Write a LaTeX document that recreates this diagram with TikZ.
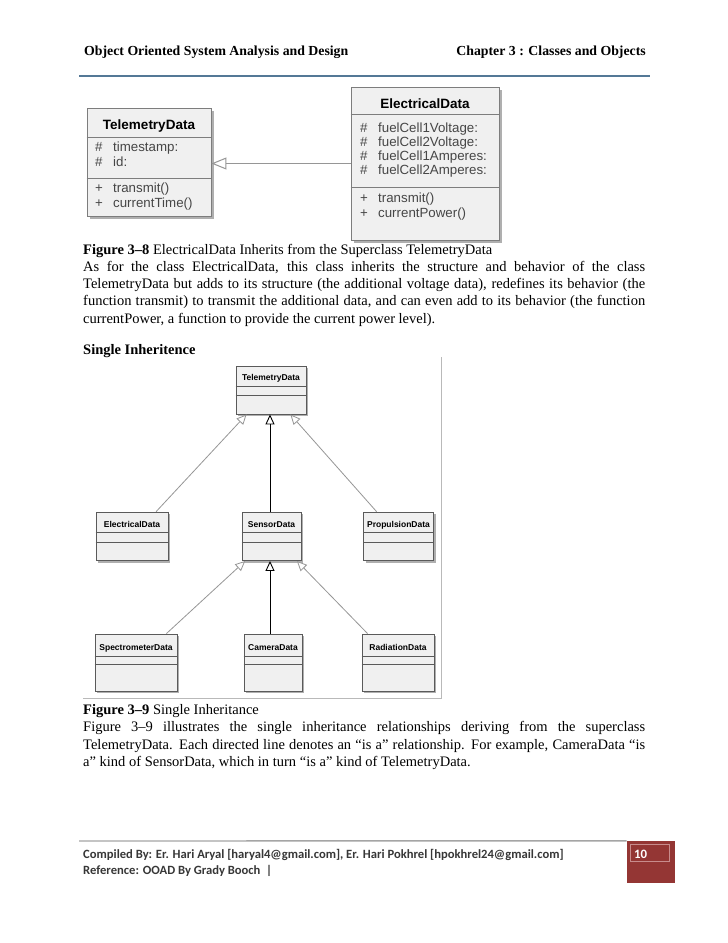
\documentclass[tikz,border=0pt]{standalone}
\usepackage{fontspec}
\setmainfont{Liberation Serif}
\newfontfamily\arialf{Liberation Sans}
\newfontfamily\calf{Carlito}
\usetikzlibrary{arrows.meta,calc,shadows}
\definecolor{hdrblue}{RGB}{84,120,150}
\definecolor{boxfill}{RGB}{240,240,240}
\definecolor{boxline}{RGB}{125,125,125}
\definecolor{boxdark}{RGB}{90,90,90}
\definecolor{shadowc}{RGB}{175,175,175}
\definecolor{attrc}{RGB}{70,70,70}
\definecolor{footred}{RGB}{148,54,52}
\definecolor{footgray}{RGB}{165,165,165}
\definecolor{framec}{RGB}{185,185,185}
\definecolor{connc}{RGB}{150,150,150}
\tikzset{
  bigbox/.style={draw=boxline, fill=boxfill, line width=0.9pt, inner sep=0pt,
    drop shadow={shadow xshift=3pt, shadow yshift=-3pt, fill=shadowc, opacity=1}},
  smallbox/.style={draw=boxdark, fill=boxfill, line width=0.8pt, inner sep=0pt,
    drop shadow={shadow xshift=2pt, shadow yshift=-2pt, fill=shadowc, opacity=1}},
  bigtitle/.style={anchor=base, inner sep=0pt, font=\arialf\bfseries\fontsize{13.5}{14}\selectfont},
  bigattr/.style={anchor=base west, inner sep=0pt, text=attrc, font=\arialf\fontsize{13.3}{14}\selectfont},
  smalltitle/.style={anchor=base, inner sep=0pt, font=\arialf\bfseries\fontsize{8.5}{10}\selectfont},
  bodytext/.style={anchor=base west, inner sep=0pt, font=\fontsize{14.5}{17}\selectfont},
  bigconn/.style={draw=connc, line width=1pt, -{Triangle[open, length=15pt, width=12pt, fill=white]}},
  greyconn/.style={draw=connc, line width=0.8pt, -{Triangle[open, length=10pt, width=9pt, fill=white]}},
  blackconn/.style={draw=black, line width=0.9pt, -{Triangle[open, length=10pt, width=9pt, fill=white]}},
  foottext/.style={anchor=base west, inner sep=0pt, text={rgb,255:red,55;green,55;blue,55}, font=\calf\bfseries\fontsize{12.6}{15}\selectfont},
}
\newcommand{\jline}[4]{\node[bodytext] (#1) at (#2,#3) {\makebox[562pt][s]{#4}};}
\begin{document}
\begin{tikzpicture}[x=1pt,y=-1pt]
\useasboundingbox (0,0) rectangle (728,943);
\fill[white] (0,0) rectangle (728,943);

% ---------- header ----------
\node[anchor=base west, inner sep=0pt, font=\bfseries\fontsize{13.8}{15}\selectfont] (h1) at (84,55) {Object Oriented System Analysis and Design};
\node[anchor=base east, inner sep=0pt, font=\bfseries\fontsize{13.8}{15}\selectfont] (h2) at (646,55) {Chapter 3 : Classes and Objects};
\coordinate (hl) at (79,76);
\coordinate (hr) at (650,76);
\draw[hdrblue, line width=1.6pt] (hl) -- (hr);

% ---------- figure 3-8 ----------
\node[bigbox, minimum width=124pt, minimum height=108pt] (td) at (149,162) {};
\draw[boxline, line width=0.9pt] (td.west |- 0,137) -- (td.east |- 0,137);
\draw[boxline, line width=0.9pt] (td.west |- 0,178) -- (td.east |- 0,178);
\node[bigtitle] (tdt) at (149,129) {TelemetryData};
\node[bigattr] (tda1s) at (95,151.8) {\#};
\node[bigattr] (tda1) at (113,151.8) {timestamp:};
\node[bigattr] (tda2s) at (95,166.8) {\#};
\node[bigattr] (tda2) at (113,166.8) {id:};
\node[bigattr] (tdm1s) at (95,192.8) {+};
\node[bigattr] (tdm1) at (113,192.8) {transmit()};
\node[bigattr] (tdm2s) at (95,207.8) {+};
\node[bigattr] (tdm2) at (113,207.8) {currentTime()};

\node[bigbox, minimum width=148pt, minimum height=153pt] (ed) at (425,163.5) {};
\draw[boxline, line width=0.9pt] (ed.west |- 0,114) -- (ed.east |- 0,114);
\draw[boxline, line width=0.9pt] (ed.west |- 0,187) -- (ed.east |- 0,187);
\node[bigtitle] (edt) at (425,108) {ElectricalData};
\node[bigattr] (eda1s) at (360,132.8) {\#};
\node[bigattr] (eda1) at (378,132.8) {fuelCell1Voltage:};
\node[bigattr] (eda2s) at (360,146.8) {\#};
\node[bigattr] (eda2) at (378,146.8) {fuelCell2Voltage:};
\node[bigattr] (eda3s) at (360,160.8) {\#};
\node[bigattr] (eda3) at (378,160.8) {fuelCell1Amperes:};
\node[bigattr] (eda4s) at (360,174.8) {\#};
\node[bigattr] (eda4) at (378,174.8) {fuelCell2Amperes:};
\node[bigattr] (edm1s) at (360,202.8) {+};
\node[bigattr] (edm1) at (378,202.8) {transmit()};
\node[bigattr] (edm2s) at (360,217.8) {+};
\node[bigattr] (edm2) at (378,217.8) {currentPower()};

\draw[bigconn] (ed.west) -- (td.east |- ed.west);

% ---------- text block 1 ----------
\node[bodytext] (cap1) at (83,254) {\textbf{Figure 3–8} ElectricalData Inherits from the Superclass TelemetryData};
\jline{p1a}{83}{271}{As for the class ElectricalData, this class inherits the structure and behavior of the class}
\jline{p1b}{83}{288.3}{TelemetryData but adds to its structure (the additional voltage data), redefines its behavior (the}
\jline{p1c}{83}{305.6}{function transmit) to transmit the additional data, and can even add to its behavior (the function}
\node[bodytext] (p1d) at (83,323) {currentPower, a function to provide the current power level).};
\node[bodytext] (sect) at (83,354) {\textbf{Single Inheritence}};

% ---------- figure 3-9 ----------
\coordinate (fa) at (83,698);
\coordinate (fb) at (441,698);
\coordinate (fc) at (441,357);
\draw[framec, line width=0.9pt] (fa) -- (fb) -- (fc);

\node[smallbox, minimum width=70pt, minimum height=48pt] (t2) at (271,390) {};
\draw[boxdark, line width=0.8pt] (t2.west |- 0,386) -- (t2.east |- 0,386);
\draw[boxdark, line width=0.8pt] (t2.west |- 0,395.3) -- (t2.east |- 0,395.3);
\node[smalltitle] (t2t) at (271,380.8) {TelemetryData};

\node[smallbox, minimum width=72pt, minimum height=48.5pt] (e2) at (132,536.3) {};
\node[smallbox, minimum width=59pt, minimum height=48.5pt] (s2) at (271.5,536.3) {};
\node[smallbox, minimum width=70pt, minimum height=48.5pt] (p2) at (398.5,536.3) {};
\foreach \n in {e2,s2,p2}{
  \draw[boxdark, line width=0.8pt] (\n.west |- 0,532.7) -- (\n.east |- 0,532.7);
  \draw[boxdark, line width=0.8pt] (\n.west |- 0,542) -- (\n.east |- 0,542);
}
\node[smalltitle] (e2t) at (132,527.2) {ElectricalData};
\node[smalltitle] (s2t) at (271.5,527.2) {SensorData};
\node[smalltitle] (p2t) at (398.5,527.2) {PropulsionData};

\node[smallbox, minimum width=82pt, minimum height=57pt] (sp) at (136,662.5) {};
\node[smallbox, minimum width=58pt, minimum height=57pt] (cd) at (273,662.5) {};
\node[smallbox, minimum width=72pt, minimum height=57pt] (rd) at (398,662.5) {};
\foreach \n in {sp,cd,rd}{
  \draw[boxdark, line width=0.8pt] (\n.west |- 0,656) -- (\n.east |- 0,656);
  \draw[boxdark, line width=0.8pt] (\n.west |- 0,664) -- (\n.east |- 0,664);
}
\node[smalltitle] (spt) at (136,650) {SpectrometerData};
\node[smalltitle] (cdt) at (273,650) {CameraData};
\node[smalltitle] (rdt) at (398,650) {RadiationData};

% connectors
\draw[greyconn] ([xshift=-12.3pt]e2.north east) -- ([xshift=11pt]t2.south west);
\draw[blackconn] ([xshift=-1.5pt]s2.north) -- ([xshift=-1.5pt]s2.north |- t2.south);
\draw[greyconn] ([xshift=13.5pt]p2.north west) -- ([xshift=-16pt]t2.south east);
\draw[greyconn] ([xshift=-11pt]sp.north east) -- ([xshift=3.6pt]s2.south west);
\draw[blackconn] ([xshift=-1.5pt]s2.south |- cd.north) -- ([xshift=-1.5pt]s2.south);
\draw[greyconn] ([xshift=6pt]rd.north west) -- ([xshift=-4.5pt]s2.south east);

% ---------- text block 2 ----------
\node[bodytext] (cap2) at (83,714) {\textbf{Figure 3–9} Single Inheritance};
\jline{p2a}{83}{731.5}{Figure 3–9 illustrates the single inheritance relationships deriving from the superclass}
\jline{p2b}{83}{749}{TelemetryData. Each directed line denotes an “is a” relationship. For example, CameraData “is}
\node[bodytext] (p2c) at (83,766.5) {a” kind of SensorData, which in turn “is a” kind of TelemetryData.};

% ---------- footer ----------
\node[fill=footred, minimum width=48.5pt, minimum height=42pt, inner sep=0pt] (pg) at (651,862) {};
\node[draw={rgb,255:red,200;green,140;blue,140}, line width=0.5pt, minimum width=39pt, minimum height=17.4pt, inner sep=0pt] (pgi) at (649.5,853) {};
\node[anchor=base west, inner sep=0pt, text=white, font=\calf\bfseries\fontsize{12.8}{15}\selectfont] (pgn) at (634,858.5) {10};
\coordinate (fl) at (79,841);
\draw[footgray, line width=1.4pt] (fl) -- (pg.north west);
\node[foottext] (f1) at (83,858.3) {Compiled By: Er. Hari Aryal [haryal4@gmail.com], Er. Hari Pokhrel [hpokhrel24@gmail.com]};
\node[foottext] (f2) at (83,874.5) {Reference: OOAD By Grady Booch \ \textbf{|}};
\end{tikzpicture}
\end{document}
